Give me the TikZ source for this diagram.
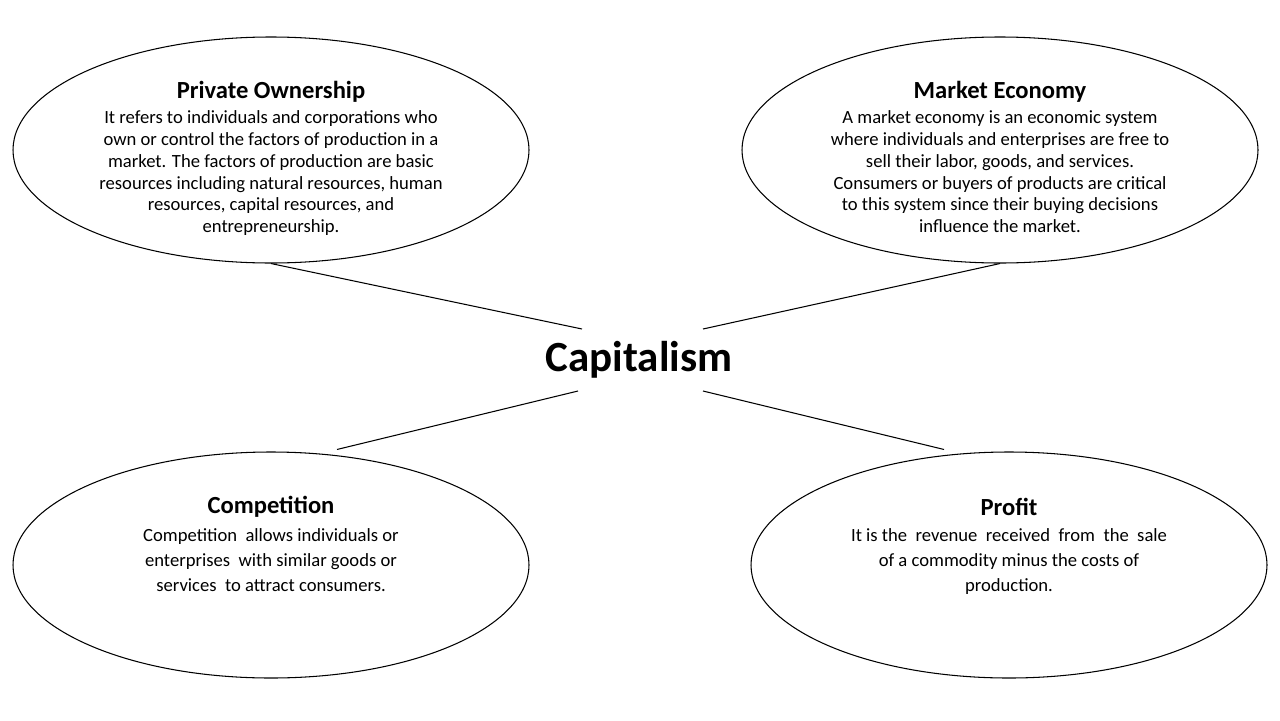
\documentclass[tikz,border=0pt]{standalone}
\usepackage{fontspec}
\setmainfont{Carlito}
\usetikzlibrary{shapes.geometric}
\begin{document}
\begin{tikzpicture}[x=0.02cm,y=-0.02cm,
  oval/.style={draw,ellipse,minimum width=516*0.02cm,minimum height=226*0.02cm,inner sep=0pt,line width=0.6pt},
  body/.style={align=center,font=\fontsize{10.6}{12.5}\selectfont},
  bodyb/.style={align=center,font=\fontsize{10.6}{14.2}\selectfont},
  ttl/.style={font=\bfseries\fontsize{14}{16}\selectfont},
  conn/.style={line width=0.6pt}]
\useasboundingbox (0,0) rectangle (1280,720);
\node[oval] (po) at (271,150) {};
\node[oval] (me) at (1000,150) {};
\node[oval] (co) at (271,565) {};
\node[oval] (pr) at (1009,565) {};
\node[font=\bfseries\fontsize{24.5}{28}\selectfont] (cap) at (639,360) {Capitalism};
\node[ttl] (pot) at (271,92) {Private Ownership};
\node[body,anchor=north] (pob) at (271,104) {It refers to individuals and corporations who\\own or control the factors of production in a\\market. The factors of production are basic\\resources including natural resources, human\\resources, capital resources, and\\entrepreneurship.};
\node[ttl] (met) at (1000,92) {Market Economy};
\node[body,anchor=north] (meb) at (1000,104) {A market economy is an economic system\\where individuals and enterprises are free to\\sell their labor, goods, and services.\\Consumers or buyers of products are critical\\to this system since their buying decisions\\influence the market.};
\node[ttl] (cot) at (271,507) {Competition};
\node[bodyb,anchor=north] (cob) at (271,522) {Competition~ allows individuals or\\enterprises~ with similar goods or\\services~ to attract consumers.};
\node[ttl] (prt) at (1009,507) {Profit};
\node[bodyb,anchor=north] (prb) at (1009,522) {It is the~ revenue~ received~ from~ the~ sale\\of a commodity minus the costs of\\production.};
\coordinate (c1) at (582,329);
\coordinate (c2) at (703,329);
\coordinate (c3) at (578,391);
\coordinate (c4) at (703,391);
\draw[conn] (po.south) -- (c1);
\draw[conn] (me.south) -- (c2);
\draw[conn] (co.north) ++(66,-2) -- (c3);
\draw[conn] (pr.north) ++(-65,-2) -- (c4);
\end{tikzpicture}
\end{document}
